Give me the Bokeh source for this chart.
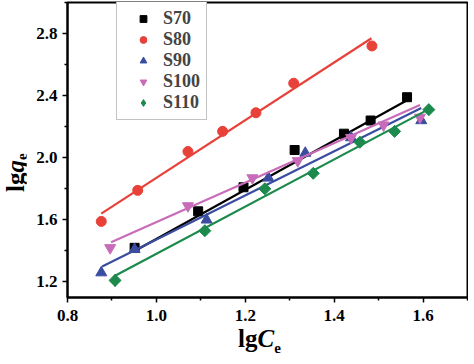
from bokeh.plotting import figure
from bokeh.models import Range1d, Legend, LegendItem, FixedTicker, PrintfTickFormatter, Div
from bokeh.layouts import row, column
from bokeh.embed import file_html
from bokeh.resources import INLINE
import math

# ---- data ----
x_s70 = [0.951, 1.094, 1.196, 1.311, 1.422, 1.482, 1.564]
y_s70 = [1.42, 1.655, 1.81, 2.05, 2.155, 2.24, 2.39]
x_s80 = [0.876, 0.958, 1.071, 1.149, 1.224, 1.309, 1.485]
y_s80 = [1.59, 1.79, 2.04, 2.17, 2.29, 2.48, 2.72]
x_s90 = [0.876, 0.951, 1.113, 1.252, 1.335, 1.438, 1.596]
y_s90 = [1.26, 1.41, 1.60, 1.87, 2.03, 2.13, 2.24]
x_s100 = [0.896, 1.071, 1.216, 1.318, 1.438, 1.511, 1.593]
y_s100 = [1.42, 1.69, 1.87, 1.98, 2.13, 2.21, 2.26]
x_s110 = [0.907, 1.109, 1.244, 1.353, 1.458, 1.536, 1.613]
y_s110 = [1.21, 1.53, 1.80, 1.90, 2.10, 2.17, 2.31]

# fitted lines (end points)
fx_s70, fy_s70 = [0.951, 1.564], [1.40, 2.37]
fx_s80, fy_s80 = [0.876, 1.484], [1.64, 2.77]
fx_s90, fy_s90 = [0.878, 1.596], [1.30, 2.32]
fx_s100, fy_s100 = [0.898, 1.593], [1.456, 2.34]
fx_s110, fy_s110 = [0.907, 1.611], [1.24, 2.31]

names = ["S70", "S80", "S90", "S100", "S110"]
x_ticks = [0.8, 1.0, 1.2, 1.4, 1.6]
y_ticks = [1.2, 1.6, 2.0, 2.4, 2.8]

FONT = "Liberation Serif"

p = figure(width=442, height=328, output_backend="svg", toolbar_location=None,
           x_range=Range1d(0.8, 1.7), y_range=Range1d(1.1, 3.0),
           min_border_left=41, min_border_right=1, min_border_top=2, min_border_bottom=31)
p.grid.visible = False
p.outline_line_color = "black"
p.outline_line_width = 2
p.background_fill_color = "white"

for ax in (p.xaxis[0], p.yaxis[0]):
    ax.axis_line_width = 2
    ax.major_tick_line_width = 1.5
    ax.minor_tick_line_width = 1.5
    ax.major_tick_out = 5
    ax.major_tick_in = 0
    ax.minor_tick_out = 3
    ax.minor_tick_in = 0
    ax.major_label_text_font = FONT
    ax.major_label_text_font_style = "bold"
    ax.major_label_text_font_size = "17px"
    ax.major_label_text_color = "black"
    ax.formatter = PrintfTickFormatter(format="%.1f")

p.xaxis.ticker = FixedTicker(ticks=x_ticks, minor_ticks=[0.9, 1.1, 1.3, 1.5, 1.7])
p.yaxis.ticker = FixedTicker(ticks=y_ticks, minor_ticks=[1.4, 1.8, 2.2, 2.6, 3.0])
p.xaxis.major_label_standoff = 7
p.yaxis.major_label_standoff = 5

series = [
    (x_s70, y_s70, fx_s70, fy_s70, "#000000", "square", 9, 0),
    (x_s80, y_s80, fx_s80, fy_s80, "#E8413A", "circle", 10, 0),
    (x_s90, y_s90, fx_s90, fy_s90, "#3A4DA0", "triangle", 11, 0),
    (x_s100, y_s100, fx_s100, fy_s100, "#C86CBA", "inverted_triangle", 11, 0),
    (x_s110, y_s110, fx_s110, fy_s110, "#1B8A4C", "square", 8.5, math.pi / 4),
]

items = []
for (xs, ys, fx, fy, col, mk, sz, ang), nm in zip(series, names):
    p.line(fx, fy, line_color=col, line_width=2.2)
    if ang:
        # legend swatch: the legend does not rotate markers, so a diamond is drawn
        # (hidden underneath the first rotated-square marker) to serve as swatch
        r = p.scatter(xs[:1], ys[:1], marker="diamond", size=12, fill_color=col, line_color=col)
        p.scatter(xs, ys, marker=mk, size=sz, angle=ang, fill_color=col, line_color=col)
    else:
        r = p.scatter(xs, ys, marker=mk, size=sz, fill_color=col, line_color=col)
    items.append(LegendItem(label=nm, renderers=[r]))

legend = Legend(items=items, location=(49, 177), padding=6, spacing=0,
                glyph_width=40, glyph_height=17, label_height=17, label_standoff=0,
                label_text_font=FONT, label_text_font_style="bold",
                label_text_font_size="18px", border_line_color="#888888",
                border_line_width=1.5, margin=0, background_fill_alpha=1)
p.add_layout(legend, "center")

common = {"font-family": FONT, "font-weight": "bold", "font-size": "25px", "color": "black"}
xlab = Div(text="lg<i>C</i><sub style='font-size:15px'>e</sub>", width=442, height=27,
           styles=dict(common, **{"padding-left": "207px", "line-height": "11px"}))
ylab = Div(text="lg<i>q</i><sub style='font-size:15px'>e</sub>", width=16, height=328,
           styles=dict(common, **{"writing-mode": "vertical-rl", "transform": "rotate(180deg)",
                                  "text-align": "center", "line-height": "22px",
                                  "padding-bottom": "8px"}))

layout = row(ylab, column(p, xlab, spacing=0), spacing=0)

open("out.html", "w").write(file_html(layout, INLINE))
